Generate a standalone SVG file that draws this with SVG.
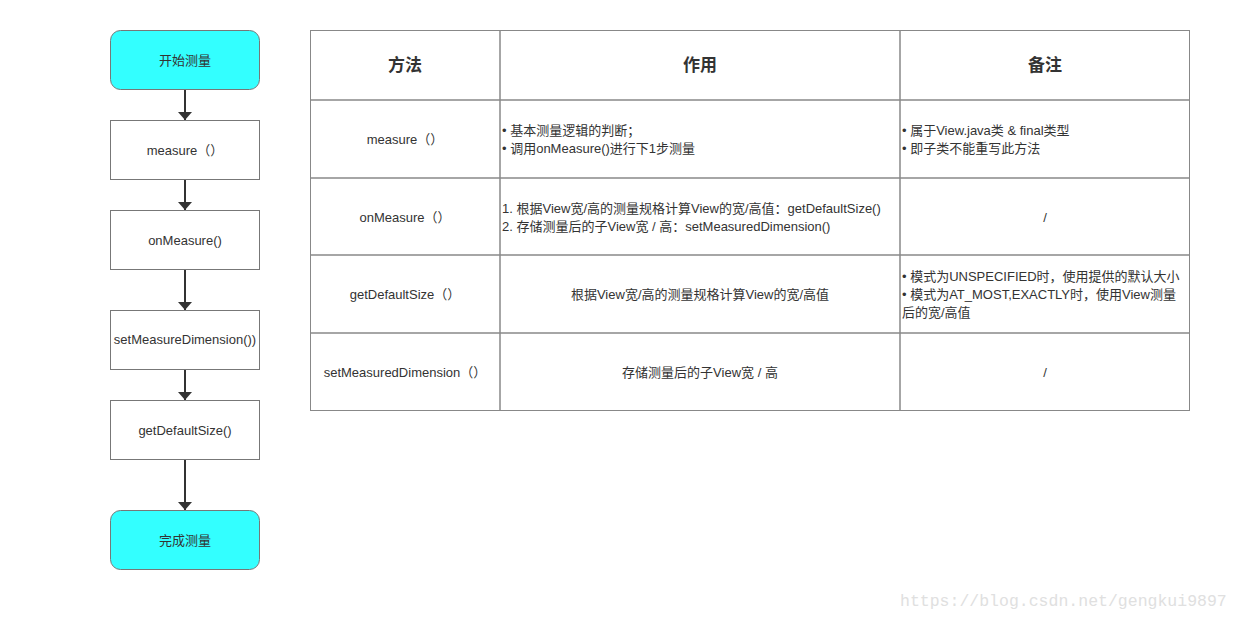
<svg xmlns="http://www.w3.org/2000/svg" width="1240" height="620" viewBox="0 0 1240 620">
<defs>
<style>
text{font-family:"Liberation Sans","Noto Sans CJK SC",Arial,sans-serif;fill:#333;}
.box{fill:#fff;stroke:#777;stroke-width:1;}
.term{fill:#33ffff;stroke:#777;stroke-width:1;}
.lbl{font-size:13px;text-anchor:middle;}
.hd{font-size:17px;font-weight:bold;text-anchor:middle;}
.c{font-size:13px;text-anchor:middle;}
.l{font-size:13px;}
.conn{stroke:#333;stroke-width:2;fill:none;marker-end:url(#ah);}
.grid{stroke:#888;stroke-width:1.5;fill:none;}
</style>
<marker id="ah" viewBox="0 0 8 14" refX="8" refY="7" markerWidth="8" markerHeight="14" orient="auto" markerUnits="userSpaceOnUse">
<path d="M0,0 L8,7 L0,14 z" fill="#333"/>
</marker>
</defs>
<rect width="1240" height="620" fill="#fff"/>

<g id="connectors">
<line class="conn" x1="185" y1="89.5" x2="185" y2="120"/>
<line class="conn" x1="185" y1="179.5" x2="185" y2="210"/>
<line class="conn" x1="185" y1="269.5" x2="185" y2="310"/>
<line class="conn" x1="185" y1="369.5" x2="185" y2="400"/>
<line class="conn" x1="185" y1="459.5" x2="185" y2="510"/>
</g>

<g id="n-start"><rect class="term" x="110.5" y="30.5" width="149" height="59" rx="10"/><text class="lbl" x="185" y="65">开始测量</text></g>
<g id="n-measure"><rect class="box" x="110.5" y="120.5" width="149" height="59"/><text class="lbl" x="185" y="155">measure（）</text></g>
<g id="n-onmeasure"><rect class="box" x="110.5" y="210.5" width="149" height="59"/><text class="lbl" x="185" y="245">onMeasure()</text></g>
<g id="n-setmd"><rect class="box" x="110.5" y="310.5" width="149" height="59"/><text class="lbl" x="185" y="344">setMeasureDimension())</text></g>
<g id="n-getds"><rect class="box" x="110.5" y="400.5" width="149" height="59"/><text class="lbl" x="185" y="435">getDefaultSize()</text></g>
<g id="n-end"><rect class="term" x="110.5" y="510.5" width="149" height="59" rx="10"/><text class="lbl" x="185" y="545">完成测量</text></g>

<g id="table">
<rect x="310.5" y="30.5" width="879" height="380" fill="#fff" stroke="#888" stroke-width="1"/>
<line class="grid" x1="500" y1="30" x2="500" y2="411"/>
<line class="grid" x1="900" y1="30" x2="900" y2="411"/>
<line class="grid" x1="310" y1="100" x2="1190" y2="100"/>
<line class="grid" x1="310" y1="178" x2="1190" y2="178"/>
<line class="grid" x1="310" y1="255" x2="1190" y2="255"/>
<line class="grid" x1="310" y1="333" x2="1190" y2="333"/>

<text class="hd" x="405" y="71">方法</text>
<text class="hd" x="700" y="71">作用</text>
<text class="hd" x="1045" y="71">备注</text>

<text class="c" x="405" y="144">measure（）</text>
<text class="l" x="502" y="135">• 基本测量逻辑的判断；</text>
<text class="l" x="502" y="153">• 调用onMeasure()进行下1步测量</text>
<text class="l" x="902" y="135">• 属于View.java类 &amp; final类型</text>
<text class="l" x="902" y="153">• 即子类不能重写此方法</text>

<text class="c" x="405" y="222">onMeasure（）</text>
<text class="l" x="502" y="213">1. 根据View宽/高的测量规格计算View的宽/高值：getDefaultSize()</text>
<text class="l" x="502" y="231">2. 存储测量后的子View宽 / 高：setMeasuredDimension()</text>
<text class="c" x="1045" y="222">/</text>

<text class="c" x="405" y="299">getDefaultSize（）</text>
<text class="c" x="700" y="299">根据View宽/高的测量规格计算View的宽/高值</text>
<text class="l" x="902" y="281">• 模式为UNSPECIFIED时，使用提供的默认大小</text>
<text class="l" x="902" y="299">• 模式为AT_MOST,EXACTLY时，使用View测量</text>
<text class="l" x="902" y="317">后的宽/高值</text>

<text class="c" x="405" y="377">setMeasuredDimension（）</text>
<text class="c" x="700" y="377">存储测量后的子View宽 / 高</text>
<text class="c" x="1045" y="377">/</text>
</g>

<text x="900" y="606" style="font-family:'Liberation Mono','DejaVu Sans Mono',monospace;font-size:16.5px;fill:#e0e0e0;">https://blog.csdn.net/gengkui9897</text>
</svg>
